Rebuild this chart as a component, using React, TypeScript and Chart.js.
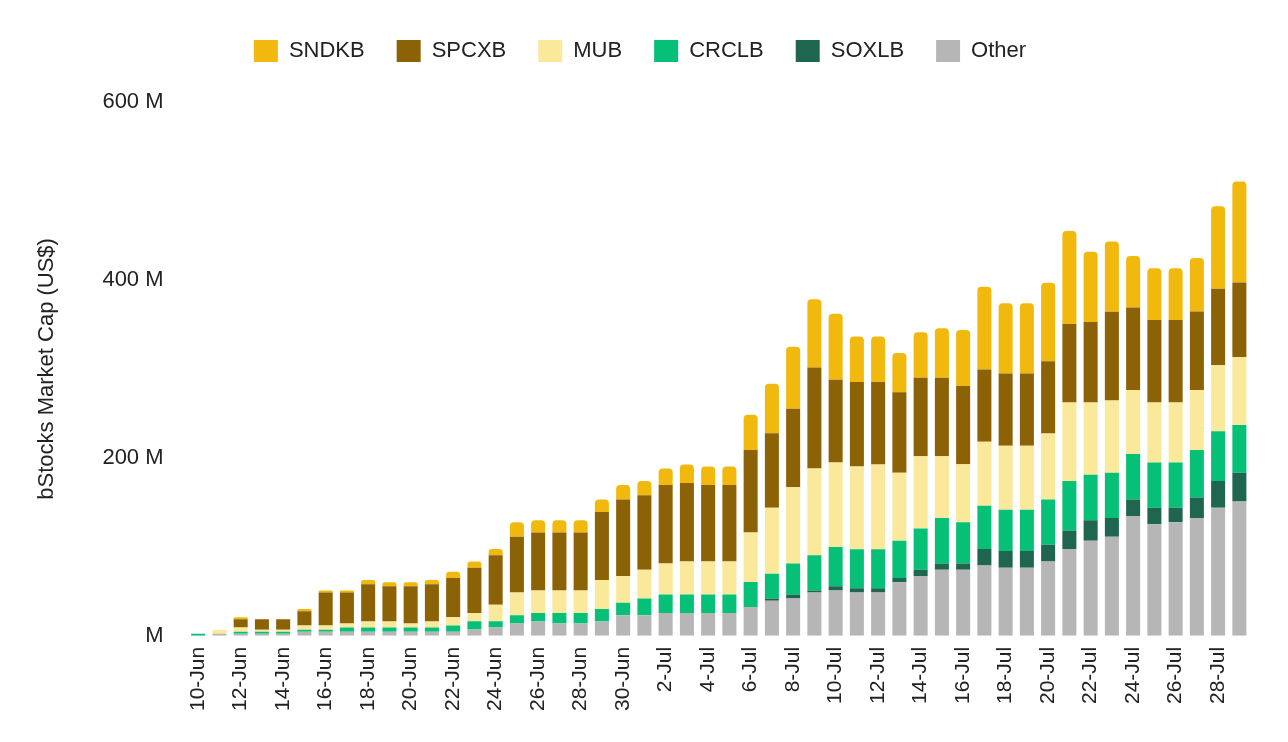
import React, { useEffect, useRef } from "react";
import { Chart, registerables } from "chart.js";
Chart.register(...registerables);

const categories = [
  "10-Jun","11-Jun","12-Jun","13-Jun","14-Jun","15-Jun","16-Jun","17-Jun","18-Jun","19-Jun",
  "20-Jun","21-Jun","22-Jun","23-Jun","24-Jun","25-Jun","26-Jun","27-Jun","28-Jun","29-Jun",
  "30-Jun","1-Jul","2-Jul","3-Jul","4-Jul","5-Jul","6-Jul","7-Jul","8-Jul","9-Jul",
  "10-Jul","11-Jul","12-Jul","13-Jul","14-Jul","15-Jul","16-Jul","17-Jul","18-Jul","19-Jul",
  "20-Jul","21-Jul","22-Jul","23-Jul","24-Jul","25-Jul","26-Jul","27-Jul","28-Jul","29-Jul",
];

const other = [0,2.3,2.3,2.3,2.3,4.6,4.6,4.6,4.6,4.6,4.6,4.6,4.6,7,9.3,13.9,16.2,13.9,13.9,16.2,
  23.2,23.2,25.5,25.5,25.5,25.5,32.5,39.5,41.8,48.7,51,48.7,48.7,60.3,67.3,74.3,74.3,78.9,76.6,76.6,
  83.6,97.5,106.8,111.4,134.6,125.3,127.7,132.3,143.9,150.9];
const soxlb = [0,0,0,0,0,0,0,0,0,0,0,0,0,0,0,0,0,0,0,0,
  0,0,0,0,0,0,0,2.3,4.6,2.3,4.6,4.6,4.6,4.6,7,7,7,18.6,18.6,18.6,
  18.6,20.9,23.2,20.9,18.6,18.6,16.2,23.2,30.2,32.5];
const crclb = [2.3,0,2.3,2.3,2.3,2.3,2.3,4.6,4.6,4.6,4.6,4.6,7,9.3,7,9.3,9.3,11.6,11.6,13.9,
  13.9,18.6,20.9,20.9,20.9,20.9,27.9,27.9,34.8,39.5,44.1,44.1,44.1,41.8,46.4,51,46.4,48.7,46.4,46.4,
  51,55.7,51,51,51,51,51,53.4,55.7,53.4];
const mub = [0,4.6,4.6,2.3,2.3,4.6,4.6,4.6,7,7,4.6,7,9.3,9.3,18.6,25.5,25.5,25.5,25.5,32.5,
  30.2,32.5,34.8,37.1,37.1,37.1,55.7,74.3,85.9,97.5,95.2,92.8,95.2,76.6,81.2,69.6,65,72,72,72,
  74.3,88.2,81.2,81.2,72,67.3,67.3,67.3,74.3,76.6];
const spcxb = [0,0,9.3,11.6,11.6,16.2,37.1,34.8,41.8,39.5,41.8,41.8,44.1,51,55.7,62.7,65,65,65,76.6,
  85.9,83.6,88.2,88.2,85.9,85.9,92.8,83.6,88.2,113.7,92.8,95.2,92.8,90.5,88.2,88.2,88.2,81.2,81.2,81.2,
  81.2,88.2,90.5,99.8,92.8,92.8,92.8,88.2,85.9,83.6];
const sndkb = [0,0,2.3,0,0,2.3,2.3,2.3,4.6,4.6,4.6,4.6,7,7,7,16.2,13.9,13.9,13.9,13.9,
  16.2,16.2,18.6,20.9,20.9,20.9,39.5,55.7,69.6,76.6,74.3,51,51,44.1,51,55.7,62.7,92.8,78.9,78.9,
  88.2,104.4,78.9,78.9,58,58,58,60.3,92.8,113.7];

const yTicks = [0, 200, 400, 600];
const FONT = "'Liberation Sans', Arial, sans-serif";

const legendMargin = {
  id: "legendMargin",
  beforeInit(chart: any) {
    const orig = chart.legend.fit;
    chart.legend.fit = function () {
      orig.bind(this)();
      this.height += 30;
    };
  },
};

export default function App() {
  const ref = useRef<HTMLCanvasElement>(null);
  useEffect(() => {
    const m = (a: number[]) => a.map((v) => v * 1e6);
    const ds = (label: string, data: number[], color: string, top = false) => ({
      label, data: m(data), backgroundColor: color,
      borderRadius: top ? { topLeft: 4, topRight: 4, bottomLeft: 0, bottomRight: 0 } : 0,
      borderSkipped: false as any,
      categoryPercentage: 0.66, barPercentage: 1,
    });
    const chart = new Chart(ref.current!, {
      type: "bar",
      data: {
        labels: categories,
        datasets: [
          ds("Other", other, "#b6b6b6"),
          ds("SOXLB", soxlb, "#1f6650"),
          ds("CRCLB", crclb, "#05c076"),
          ds("MUB", mub, "#fbe99b"),
          ds("SPCXB", spcxb, "#8c6206"),
          ds("SNDKB", sndkb, "#f1b90d", true),
        ],
      },
      plugins: [legendMargin],
      options: {
        animation: false,
        responsive: false,
        layout: { padding: { left: 22, right: 30, top: 0, bottom: 20 } },
        plugins: {
          tooltip: { enabled: false },
          legend: {
            reverse: true,
            labels: {
              font: { family: FONT, size: 22 }, color: "#222",
              boxWidth: 24, boxHeight: 22, padding: 32,
            },
          },
        },
        scales: {
          x: {
            stacked: true,
            grid: { display: false },
            border: { display: false },
            ticks: {
              autoSkip: false, maxRotation: 90, minRotation: 90,
              font: { family: FONT, size: 21 }, color: "#222",
              callback: (v: any, i: number) => (i % 2 === 0 ? categories[i] : ""),
            },
          },
          y: {
            stacked: true,
            min: 0, max: 600e6,
            afterBuildTicks: (ax: any) => { ax.ticks = yTicks.map((v) => ({ value: v * 1e6 })); },
            grid: { display: false },
            border: { display: false },
            title: { display: true, text: "bStocks Market Cap (US$)", font: { family: FONT, size: 22 }, color: "#222", padding: { bottom: 26 } },
            ticks: {
              font: { family: FONT, size: 22 }, color: "#222", padding: 16,
              callback: (v: any) => (v === 0 ? "M" : v / 1e6 + " M"),
            },
          },
        },
      },
    });
    return () => chart.destroy();
  }, []);
  return <canvas ref={ref} width={1272} height={726} style={{ display: "block" }} />;
}
